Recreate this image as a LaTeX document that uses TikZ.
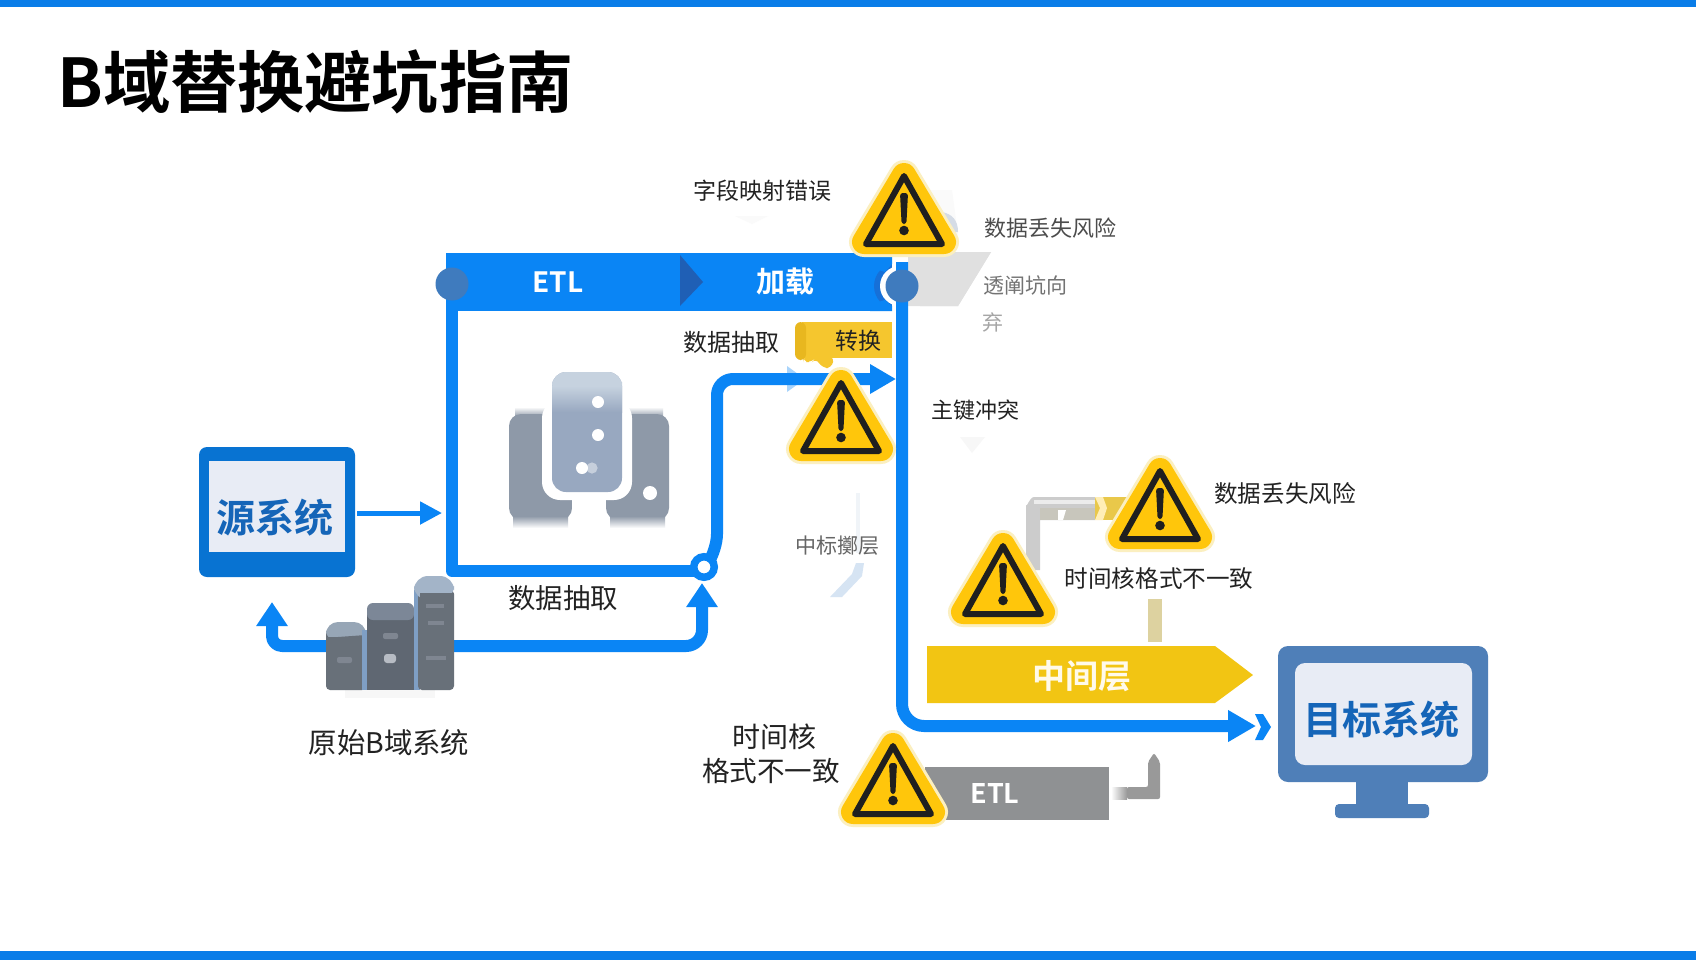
\documentclass[tikz,border=0pt]{standalone}
\usepackage{fontspec}
\setmainfont{Noto Sans CJK SC}[BoldFont=Noto Sans CJK SC Bold]
\usetikzlibrary{arrows.meta,calc}
\newcommand\fz[1]{\fontsize{#1}{#1}\selectfont}
\newcommand\boxn[6]{\node[inner sep=0pt,outer sep=0pt,#2,minimum width={(#5-#3)*0.5pt},minimum height={(#6-#4)*0.5pt}] (#1) at ({(#3+#5)/2},{(#4+#6)/2}) {};}
\definecolor{flowblue}{HTML}{0A85F5}
\definecolor{barblue}{HTML}{0A7DE8}
\definecolor{srcblue}{HTML}{0873D2}
\definecolor{deepblue}{HTML}{1F5FB5}
\definecolor{crescent}{HTML}{1670D8}
\definecolor{steel}{HTML}{3F7BBE}
\definecolor{monblue}{HTML}{4F7FB8}
\definecolor{inkblue}{HTML}{1565B8}
\definecolor{gold}{HTML}{FFC60B}
\definecolor{halo}{HTML}{FBEFC0}
\definecolor{midgold}{HTML}{F2C513}
\definecolor{taggold}{HTML}{F5C62E}
\definecolor{tagdark}{HTML}{E8B71F}
\definecolor{lab}{HTML}{222222}
\definecolor{sideblock}{HTML}{8E99A8}
\definecolor{midblock}{HTML}{98A8C0}
\definecolor{capblock}{HTML}{C6D2DF}
\definecolor{bbody}{HTML}{687079}
\definecolor{bmid}{HTML}{5F6772}
\definecolor{bsep}{HTML}{7F9FC5}
\definecolor{bmark}{HTML}{7F8691}
\tikzset{
  x=0.5pt,y=-0.5pt,
  flow/.style={draw=flowblue,line width=6pt,line join=round},
  lbl/.style={inner sep=0pt,text=lab},
  warn/.pic={
    \fill[halo,draw=halo,line width=15pt,line join=round] (0,18)--(40,85)--(-40,85)--cycle;
    \fill[gold,draw=gold,line width=12pt,line join=round] (0,18)--(40,85)--(-40,85)--cycle;
    \draw[black!88,line width=3pt,line join=round] (0,19)--(38,87)--(-38,87)--cycle;
    \fill[black!88,rounded corners=1.4pt] (-4,36) -- (4,36) -- (2.4,67) -- (-2.4,67) --cycle;
    \fill[black!88] (0,73.5) circle[radius=2.4pt];
  }
}
\begin{document}
\begin{tikzpicture}
\useasboundingbox (0,0) rectangle (1696,960);
\fill[white] (0,0) rectangle (1696,960);
\boxn{topbar}{fill=barblue}{0}{0}{1696}{7}
\boxn{botbar}{fill=barblue}{0}{951}{1696}{960}
\node[lbl,text=black,anchor=west] (title) at (57,82) {\fz{33.6}\bfseries B域替换避坑指南};

% faint residue marks
\fill[black!2] (880,190) -- (952,190) -- (958,235) -- (930,235) --cycle;
\fill[fill={rgb,255:red,213;green,220;blue,230}] (942,212) .. controls (952,214) and (958,220) .. (958,232) -- (948,232) --cycle;
\fill[black!2] (735,216) -- (768,216) -- (752,224) --cycle;
\fill[black!3] (960,437) -- (985,437) -- (972,453) --cycle;
\fill[fill={rgb,255:red,240;green,244;blue,248}] (856,493) -- (860,493) -- (860,553) -- (856,553) --cycle;
\fill[fill={rgb,255:red,214;green,228;blue,243}] (856,563) -- (864,563) -- (862,576) -- (842,597) -- (830,597) -- (852,574) --cycle;

% grey panel
\fill[black!12] (908,252) -- (991,252) -- (958,306) -- (908,306) --cycle;

% header and frame
\boxn{hdr}{fill=flowblue}{446}{253}{892}{311}
\coordinate (fa) at (452,300);
\coordinate (fb) at (452,571);
\coordinate (fc) at (704,571);
\draw[flow] (fa) -- (fb) -- (fc);
\fill[deepblue] (680,255) -- (703,282) -- (680,306) --cycle;
\node[text=white,inner sep=0pt] (etltop) at (558,282) {\fz{14}\bfseries ETL};
\node[text=white,inner sep=0pt] (load) at (785,282) {\fz{14.5}\bfseries 加载};
\fill[crescent] (897,286) circle[radius=11.5pt];
\fill[white] (900,286) circle[radius=10pt];
\fill[white] (892,254) rectangle (920,312);
\fill[flowblue] (870,254) -- (892,254) -- (892,264) -- (885,272) -- (872,268) --cycle;
\fill[flowblue] (870,311) -- (892,311) -- (892,306) -- (885,300) -- (872,304) --cycle;
\fill[black!12] (908,252) -- (991,252) -- (958,306) -- (908,306) --cycle;

% server icon
\shade[top color=white,bottom color=sideblock] (515,407) rectangle (572,417);
\shade[top color=white,bottom color=sideblock] (606,407) rectangle (663,417);
\fill[rounded corners=6pt,fill=sideblock] (509,414) rectangle (572,520);
\fill[rounded corners=6pt,fill=sideblock] (606,414) rectangle (669,520);
\shade[top color=sideblock,bottom color=white] (513,516) rectangle (568,528);
\shade[top color=sideblock,bottom color=white] (610,516) rectangle (665,528);
\fill[rounded corners=9pt,white] (542,400) rectangle (632,500);
\fill[white] (572,490) rectangle (606,530);
\fill[rounded corners=7pt,fill=midblock] (552,372) rectangle (622,492);
\fill[rounded corners=7pt,fill=capblock] (552,372) rectangle (622,396);
\shade[top color=capblock,bottom color=midblock] (552,386) rectangle (622,412);
\fill[white] (598,402) circle[radius=3pt];
\fill[white] (598,435) circle[radius=3pt];
\fill[white,opacity=.45] (592,468) circle[radius=2.8pt];
\fill[white] (582,468) circle[radius=3pt];
\fill[white] (650,493) circle[radius=3.5pt];

% source
\boxn{src}{fill=srcblue,rounded corners=4pt}{199}{447}{355}{577}
\boxn{srcin}{fill={rgb,255:red,232;green,236;blue,245}}{209}{461}{345}{552}
\node[text=inkblue,inner sep=0pt] (srct) at (275,518) {\fz{19.5}\bfseries 源系统};
\coordinate (arrowin) at (442,513);
\draw[draw=flowblue,line width=2.5pt,-{Triangle[length=11pt,width=11pt]}] (src.east) ++(2,1) -- (arrowin);

% building routes
\coordinate (bl) at (330,646);
\coordinate (bltip) at (272,602);
\coordinate (br) at (450,646);
\coordinate (brtip) at (702,583);
\draw[flow,rounded corners=5pt,-{Triangle[length=12pt,width=15pt]}] (bl) -| (bltip);
\draw[flow,rounded corners=8pt,-{Triangle[length=12pt,width=15pt]}] (br) -| (brtip);

% buildings
\fill[black!3] (345,690) rectangle (435,698);
\fill[bbody,rounded corners=2pt] (326,630) rectangle (366,690);
\fill[fill={rgb,255:red,151;green,166;blue,182},rounded corners=6pt] (326,622) rectangle (366,642);
\fill[bbody] (338,637) -- (366,635) -- (366,645) -- (326,645) -- (326,637) --cycle;
\fill[bsep] (362,630) rectangle (367,690);
\fill[bmid] (367,612) rectangle (414,690);
\fill[fill={rgb,255:red,124;green,135;blue,151},rounded corners=3pt] (367,603) rectangle (414,620);
\fill[bsep] (414,590) rectangle (420,690);
\fill[bbody,rounded corners=2pt] (418,590) rectangle (454,690);
\fill[fill={rgb,255:red,163;green,180;blue,200},rounded corners=7pt] (414,576) rectangle (454,600);
\fill[bbody] (420,593) rectangle (454,602);
\fill[bmark,rounded corners=1pt] (337,657) rectangle (352,663);
\fill[bmark,rounded corners=1pt] (383,633) rectangle (398,639);
\fill[fill={rgb,255:red,183;green,188;blue,196},rounded corners=1.5pt] (384,654) rectangle (396,663);
\fill[bmark] (426,604) rectangle (444,608);
\fill[bmark] (428,621) rectangle (444,625);
\fill[bmark] (426,656) rectangle (446,660);

% route to main line
\coordinate (rtip) at (896,379);
\coordinate (rv) at (717,379);
\coordinate (rs) at (717,550);
\fill[flowblue!35] (787,366) -- (805,379) -- (787,392) --cycle;
\draw[flow,rounded corners=8pt,-{Triangle[length=13pt,width=14pt]}] (708,563) -- (rs) -- (rv) -- (rtip);
\node[circle,draw=flowblue,line width=3.75pt,fill=white,inner sep=0pt,minimum size=10.25pt] (ring) at (704,567) {};

% main line
\coordinate (mtop) at (902,262);
\coordinate (mcorner) at (902,726);
\coordinate (mend) at (1256,726);
\draw[flow,rounded corners=11pt,-{Triangle[length=14pt,width=15pt]}] (mtop) -- (mcorner) -- (mend);
\fill[flowblue] (1255,714) -- (1263,714) -- (1271,727) -- (1263,740) -- (1255,740) -- (1261,727) --cycle;

% circles
\node[circle,fill=steel,inner sep=0pt,minimum size=16.5pt] (cl) at (452,284) {};
\node[circle,fill=steel,inner sep=0pt,minimum size=16.5pt] (cr) at (902,286) {};

% yellow tag
\fill[taggold,rounded corners=3pt] (803,356) -- (803,362) -- (812,362) -- (816,358) -- (822,368) -- (832,368) -- (834,356) --cycle;
\boxn{tag}{fill=taggold}{802}{322}{892}{358}
\fill[tagdark,rounded corners=3pt] (795,322) rectangle (806,360);
\node[lbl] (tagt) at (858,341) {\fz{11.5}转换};

% labels near the header
\node[lbl] (l1) at (762,191) {\fz{11.5}字段映射错误};
\node[lbl,text=black!70] (l2) at (1050,228) {\fz{11}数据丢失风险};
\node[lbl,text=black!55] (l3) at (1025,285) {\fz{10.5}透阐坑向};
\node[lbl,text=black!35] (l4) at (993,322) {\fz{10.5}弃};
\node[lbl] (l5) at (731,342) {\fz{12}数据抽取};
\node[lbl] (l6) at (975,410) {\fz{11}主键冲突};
\node[lbl,text=black!60] (l7) at (837,546) {\fz{10.5}中标擲层};
\node[lbl] (l8) at (563,598) {\fz{13.7}数据抽取};
\node[lbl] (l9) at (389,743) {\fz{14.2}原始B域系统};

% upper right stuff
\fill[black!20] (1026,520) -- (1026,505) to[out=-90,in=180] (1034,497) -- (1095,497) -- (1095,520) -- (1040,520) -- (1040,570) -- (1026,570) --cycle;
\fill[white!85!gray] (1034,500) -- (1095,500) -- (1095,504) -- (1034,504) --cycle;
\fill[fill={rgb,255:red,200;green,198;blue,188}] (1040,508) rectangle (1095,520);
\fill[white] (1058,510) -- (1066,510) -- (1063,520) -- (1058,520) --cycle;
\fill[fill={rgb,255:red,233;green,200;blue,74}] (1095,497) rectangle (1130,520);
\fill[white!70!gold] (1095,497) -- (1100,508) -- (1095,520) -- (1103,520) -- (1107,508) -- (1103,497) --cycle;
\fill[fill={rgb,255:red,221;green,210;blue,160}] (1148,599) rectangle (1162,642);

% yellow arrow
\path[fill=midgold] (927,646) -- (1215,646) -- (1253,675) -- (1215,703) -- (927,703) --cycle;
\coordinate (midc) at (1082,676);
\node[text=white!92!gold,inner sep=0pt] (midt) at (midc) {\fz{16.5}\bfseries 中间层};

% target
\boxn{mon}{fill=monblue,rounded corners=5pt}{1278}{646}{1488}{782}
\boxn{neck}{fill=monblue}{1356}{780}{1408}{805}
\boxn{mbase}{fill=monblue,rounded corners=2pt}{1335}{804}{1429}{818}
\boxn{monin}{fill={rgb,255:red,232;green,236;blue,245},rounded corners=5pt}{1295}{663}{1472}{765}
\node[text=inkblue,inner sep=0pt] (mont) at (1381,720) {\fz{19.5}\bfseries 目标系统};

% bottom ETL
\boxn{etlg}{fill={rgb,255:red,143;green,145;blue,147}}{925}{767}{1109}{820}
\node[text=white,inner sep=0pt] (etlb) at (995,793) {\fz{13.5}\bfseries ETL};
\shade[left color=white,right color=black!40] (1111,787) rectangle (1127,799);
\fill[black!40,rounded corners=1pt] (1127,787) -- (1148,787) -- (1148,762) -- (1154,753) -- (1160,762) -- (1160,799) -- (1127,799) --cycle;

% side labels
\node[lbl] (l10) at (1285,493) {\fz{11.8}数据丢失风险};
\node[lbl] (l11) at (1159,578) {\fz{11.8}时间核格式不一致};
\node[lbl] (l12) at (774,737) {\fz{14}时间核};
\node[lbl] (l13) at (771,771) {\fz{13.8}格式不一致};

% warnings
\pic (w1) at (904,157) {warn};
\pic (w2) at (841,364) {warn};
\pic (w3) at (1160,452) {warn};
\pic (w4) at (1003,527) {warn};
\pic (w5) at (893,727) {warn};
\end{tikzpicture}
\end{document}
